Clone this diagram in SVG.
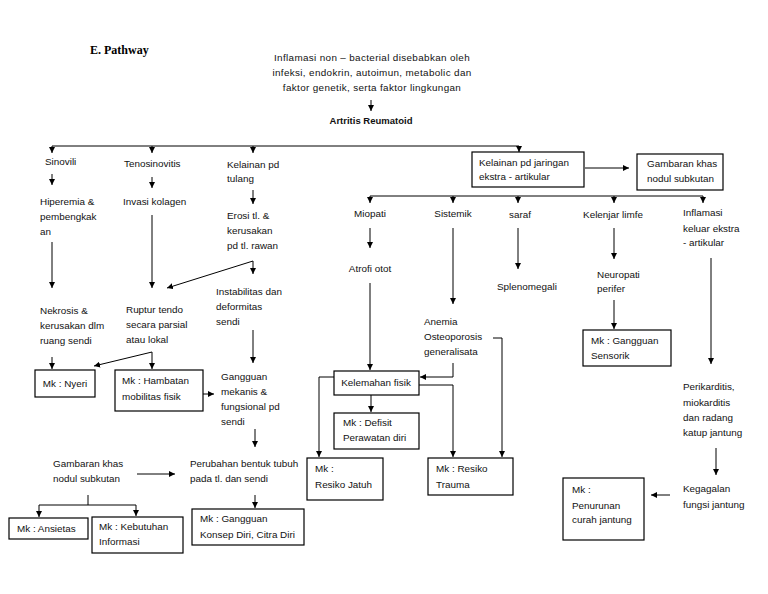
<svg xmlns="http://www.w3.org/2000/svg" width="768" height="594" viewBox="0 0 768 594">
<defs>
<marker id="ah" markerWidth="6" markerHeight="6" refX="6" refY="3" orient="auto" markerUnits="userSpaceOnUse">
<path d="M0,0 L6,3 L0,6 z" fill="#000"/>
</marker>
<style>
text{font-family:"Liberation Sans",Arial,sans-serif;font-size:9.9px;fill:#111}
.c{text-anchor:middle}
.b{font-weight:bold;font-size:9.5px}
.i{letter-spacing:0.35px}
.title{font-family:"Liberation Serif","Times New Roman",serif;font-size:12px;font-weight:bold;fill:#000}
.box{fill:#fff;stroke:#000;stroke-width:1.2}
#connectors path{fill:none;stroke:#000;stroke-width:1}
.a{marker-end:url(#ah)}
</style>
</defs>
<rect width="768" height="594" fill="#fff"/>
<text class="title" x="90" y="54">E. Pathway</text>

<g id="connectors">
<path class="a" d="M371,100 V111"/>
<path d="M52,146 H519"/>
<path class="a" d="M52,146 V153"/>
<path class="a" d="M152,146 V153"/>
<path class="a" d="M253,146 V153"/>
<path class="a" d="M519,146 V152"/>
<path class="a" d="M52,174 V185"/>
<path class="a" d="M52,242 V288"/>
<path class="a" d="M52,357 V369"/>
<path class="a" d="M152,177 V188"/>
<path class="a" d="M152,215 V288"/>
<path class="a" d="M253,190 V204"/>
<path class="a" d="M253,261 V274"/>
<path class="a" d="M253,261 L167,288"/>
<path class="a" d="M253,330 V363"/>
<path d="M152,352 V358"/>
<path class="a" d="M152,358 V369"/>
<path class="a" d="M152,352 L94,366"/>
<path class="a" d="M203,394 H214"/>
<path class="a" d="M255,429 V447"/>
<path class="a" d="M137,474 H175"/>
<path class="a" d="M255,495 V508"/>
<path d="M88,495 V505 M39,505 H136"/>
<path class="a" d="M39,505 V517"/>
<path class="a" d="M136,505 V516"/>
<path class="a" d="M585,168 H629"/>
<path d="M370,196 H703"/>
<path class="a" d="M370,196 V203"/>
<path class="a" d="M453,196 V203"/>
<path class="a" d="M518,196 V203"/>
<path class="a" d="M614,196 V203"/>
<path class="a" d="M703,196 V203"/>
<path class="a" d="M370,228 V248"/>
<path class="a" d="M370,283 V370"/>
<path class="a" d="M453,228 V304"/>
<path class="a" d="M518,228 V269"/>
<path class="a" d="M614,228 V259"/>
<path class="a" d="M614,300 V329"/>
<path class="a" d="M711,258 V364"/>
<path class="a" d="M453,363 V377 H420"/>
<path class="a" d="M493,338 H502 V457"/>
<path class="a" d="M334,377 H319 V457"/>
<path class="a" d="M419,385 H453 V457"/>
<path class="a" d="M371,395 V412"/>
<path class="a" d="M716,448 V475"/>
<path class="a" d="M670,495 H651"/>
</g>

<g id="n-cause">
<text class="c i" x="372" y="61">Inflamasi non – bacterial disebabkan oleh</text>
<text class="c i" x="372" y="76">infeksi, endokrin, autoimun, metabolic dan</text>
<text class="c i" x="372" y="91">faktor genetik, serta faktor lingkungan</text>
</g>
<g id="n-ra"><text class="c b" x="371" y="124">Artritis Reumatoid</text></g>

<g id="n-sinovili"><text x="45" y="165">Sinovili</text></g>
<g id="n-hiperemia">
<text x="40" y="205">Hiperemia &amp;</text>
<text x="40" y="220">pembengkak</text>
<text x="40" y="235">an</text>
</g>
<g id="n-nekrosis">
<text x="40" y="314">Nekrosis &amp;</text>
<text x="40" y="329">kerusakan dlm</text>
<text x="40" y="344">ruang sendi</text>
</g>
<g id="n-nyeri">
<rect class="box" x="35" y="370" width="60" height="27"/>
<text class="c" x="65" y="387">Mk : Nyeri</text>
</g>

<g id="n-teno"><text x="124" y="167">Tenosinovitis</text></g>
<g id="n-invasi"><text x="123" y="205">Invasi kolagen</text></g>
<g id="n-ruptur">
<text x="126" y="313">Ruptur tendo</text>
<text x="126" y="328">secara parsial</text>
<text x="126" y="343">atau lokal</text>
</g>
<g id="n-hambatan">
<rect class="box" x="115" y="370" width="88" height="41"/>
<text x="122" y="384">Mk : Hambatan</text>
<text x="122" y="400">mobilitas fisik</text>
</g>

<g id="n-tulang">
<text x="227" y="168">Kelainan pd</text>
<text x="227" y="182">tulang</text>
</g>
<g id="n-erosi">
<text x="227" y="219">Erosi tl. &amp;</text>
<text x="227" y="234">kerusakan</text>
<text x="227" y="249">pd tl. rawan</text>
</g>
<g id="n-instab">
<text x="216" y="295">Instabilitas dan</text>
<text x="216" y="310">deformitas</text>
<text x="216" y="325">sendi</text>
</g>
<g id="n-gangguan">
<text x="221" y="380">Gangguan</text>
<text x="221" y="395">mekanis &amp;</text>
<text x="221" y="410">fungsional pd</text>
<text x="221" y="425">sendi</text>
</g>
<g id="n-perubahan">
<text x="190" y="467">Perubahan bentuk tubuh</text>
<text x="190" y="482">pada tl. dan sendi</text>
</g>
<g id="n-konsep">
<rect class="box" x="192" y="509" width="112" height="36"/>
<text x="200" y="522">Mk : Gangguan</text>
<text x="200" y="538">Konsep Diri, Citra Diri</text>
</g>
<g id="n-gambaran1">
<text x="53" y="467">Gambaran khas</text>
<text x="53" y="482">nodul subkutan</text>
</g>
<g id="n-ansietas">
<rect class="box" x="9" y="518" width="79" height="21"/>
<text x="17" y="532">Mk : Ansietas</text>
</g>
<g id="n-kebutuhan">
<rect class="box" x="92" y="517" width="91" height="36"/>
<text x="99" y="530">Mk : Kebutuhan</text>
<text x="99" y="545">Informasi</text>
</g>

<g id="n-jaringan">
<rect class="box" x="472" y="152" width="112" height="35"/>
<text x="479" y="166">Kelainan pd jaringan</text>
<text x="479" y="180">ekstra - artikular</text>
</g>
<g id="n-gambaran2">
<rect class="box" x="637" y="154" width="86" height="36"/>
<text x="647" y="167">Gambaran khas</text>
<text x="647" y="182">nodul subkutan</text>
</g>
<g id="n-miopati"><text class="c" x="370" y="217">Miopati</text></g>
<g id="n-sistemik"><text class="c" x="453" y="217">Sistemik</text></g>
<g id="n-saraf"><text class="c" x="520" y="218">saraf</text></g>
<g id="n-limfe"><text class="c" x="613" y="218">Kelenjar limfe</text></g>
<g id="n-inflamasi">
<text x="683" y="216">Inflamasi</text>
<text x="683" y="232">keluar ekstra</text>
<text x="683" y="246">- artikular</text>
</g>
<g id="n-atrofi"><text class="c" x="370" y="272">Atrofi otot</text></g>
<g id="n-anemia">
<text x="424" y="325">Anemia</text>
<text x="424" y="340">Osteoporosis</text>
<text x="424" y="355">generalisata</text>
</g>
<g id="n-spleno"><text x="497" y="290">Splenomegali</text></g>
<g id="n-neuropati">
<text x="597" y="278">Neuropati</text>
<text x="597" y="292">perifer</text>
</g>
<g id="n-sensorik">
<rect class="box" x="583" y="330" width="88" height="36"/>
<text x="591" y="344">Mk : Gangguan</text>
<text x="591" y="359">Sensorik</text>
</g>
<g id="n-kelemahan">
<rect class="box" x="334" y="371" width="85" height="24"/>
<text class="c" x="376" y="386">Kelemahan fisik</text>
</g>
<g id="n-defisit">
<rect class="box" x="334" y="413" width="85" height="36"/>
<text x="343" y="426">Mk : Defisit</text>
<text x="343" y="441">Perawatan diri</text>
</g>
<g id="n-jatuh">
<rect class="box" x="307" y="458" width="76" height="42"/>
<text x="315" y="472">Mk :</text>
<text x="315" y="488">Resiko Jatuh</text>
</g>
<g id="n-trauma">
<rect class="box" x="428" y="458" width="85" height="37"/>
<text x="436" y="472">Mk : Resiko</text>
<text x="436" y="488">Trauma</text>
</g>
<g id="n-perikarditis">
<text x="683" y="390">Perikarditis,</text>
<text x="683" y="406">miokarditis</text>
<text x="683" y="421">dan radang</text>
<text x="683" y="436">katup jantung</text>
</g>
<g id="n-kegagalan">
<text x="683" y="492">Kegagalan</text>
<text x="683" y="508">fungsi jantung</text>
</g>
<g id="n-penurunan">
<rect class="box" x="563" y="478" width="81" height="62"/>
<text x="572" y="493">Mk :</text>
<text x="572" y="509">Penurunan</text>
<text x="572" y="523">curah jantung</text>
</g>
</svg>
